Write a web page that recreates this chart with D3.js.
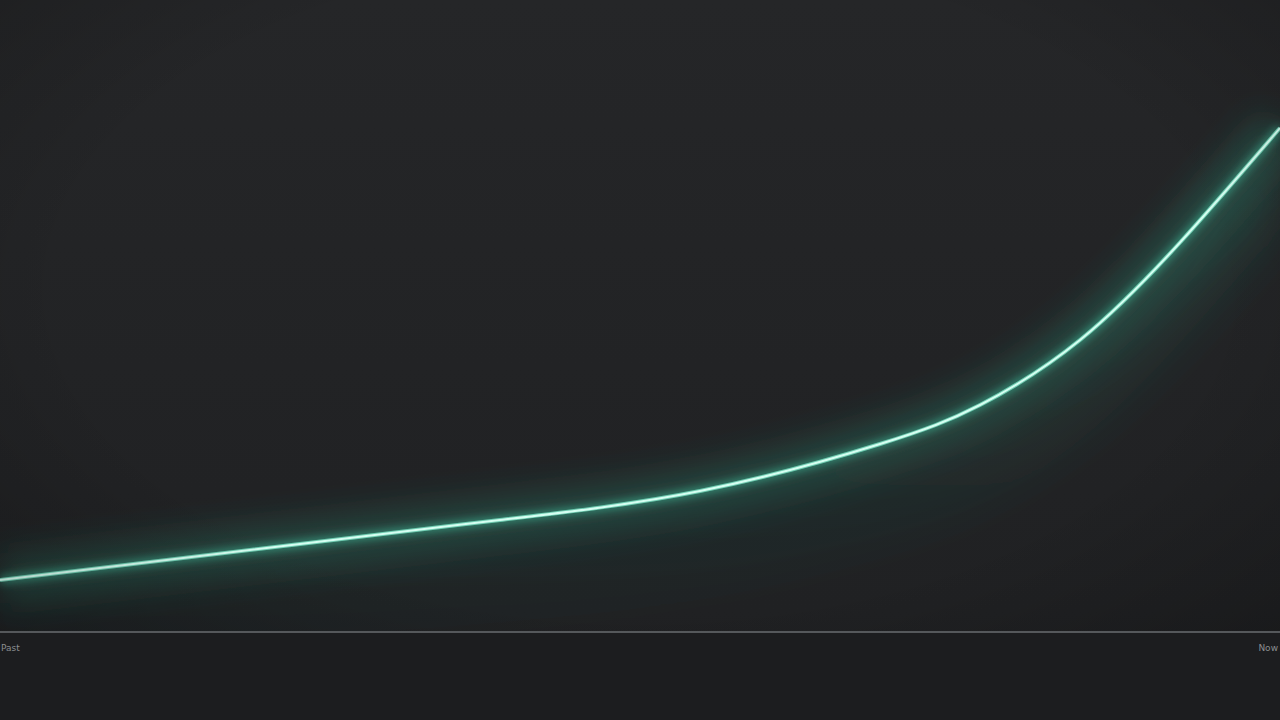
<!DOCTYPE html>
<html><head><meta charset="utf-8">
<script src="https://cdn.jsdelivr.net/npm/d3@7"></script>
<style>html,body{margin:0;padding:0;background:#1e1f21;overflow:hidden}</style>
</head><body>
<svg id="c" width="1280" height="720"></svg>
<script>
const xValues = [0,30,50,70,88,98,108,118,128];
const yValues = [10.4,17.6,22.4,28.2,37.6,45.4,58.4,77.9,100.8];
const axisLabels = ["Past","Now"];

const W=1280,H=720;
const svg=d3.select("#c");
const defs=svg.append("defs");
const bg=defs.append("linearGradient").attr("id","bg").attr("x1",0).attr("y1",0).attr("x2",0).attr("y2",1);
bg.append("stop").attr("offset","0%").attr("stop-color","#252628");
bg.append("stop").attr("offset","85%").attr("stop-color","#202123");
bg.append("stop").attr("offset","100%").attr("stop-color","#1c1d1f");
const vg=defs.append("radialGradient").attr("id","vg").attr("cx","50%").attr("cy","40%").attr("r","75%");
vg.append("stop").attr("offset","60%").attr("stop-color","#000").attr("stop-opacity",0);
vg.append("stop").attr("offset","100%").attr("stop-color","#000").attr("stop-opacity",0.25);
const under=defs.append("linearGradient").attr("id","under").attr("x1",0).attr("y1",0).attr("x2",0).attr("y2",1);
under.append("stop").attr("offset","0%").attr("stop-color","#2f8a74").attr("stop-opacity",0.22);
under.append("stop").attr("offset","100%").attr("stop-color","#2f8a74").attr("stop-opacity",0.0);
const f1=defs.append("filter").attr("id","glowW").attr("x","-20%").attr("y","-20%").attr("width","140%").attr("height","140%");
f1.append("feGaussianBlur").attr("stdDeviation",16);
const f2=defs.append("filter").attr("id","glowM").attr("x","-20%").attr("y","-20%").attr("width","140%").attr("height","140%");
f2.append("feGaussianBlur").attr("stdDeviation",4);
const f3=defs.append("filter").attr("id","glowA").attr("x","-20%").attr("y","-20%").attr("width","140%").attr("height","140%");
f3.append("feGaussianBlur").attr("stdDeviation",20);

svg.append("rect").attr("width",W).attr("height",H).attr("fill","url(#bg)");

const x=d3.scaleLinear().domain([0,128]).range([0,1280]);
const y=d3.scaleLinear().domain([0,120]).range([632,32]);
const data=xValues.map((v,i)=>({x:v,y:yValues[i]}));
const line=d3.line().x(d=>x(d.x)).y(d=>y(d.y)).curve(d3.curveNatural);
const area=d3.area().x(d=>x(d.x)).y0(d=>y(d.y)+100).y1(d=>y(d.y)).curve(d3.curveNatural);

svg.append("path").datum(data).attr("d",area).attr("fill","url(#under)").attr("filter","url(#glowA)");
svg.append("path").datum(data).attr("d",line).attr("fill","none").attr("stroke","#2e8f78").attr("stroke-width",50).attr("stroke-opacity",0.28).attr("filter","url(#glowW)");
svg.append("path").datum(data).attr("d",line).attr("fill","none").attr("stroke","#45c9a6").attr("stroke-width",8).attr("stroke-opacity",0.55).attr("filter","url(#glowM)");
svg.append("path").datum(data).attr("d",line).attr("fill","none").attr("stroke","#7fe3c6").attr("stroke-width",4).attr("stroke-opacity",0.8);
svg.append("path").datum(data).attr("d",line).attr("fill","none").attr("stroke","#d6fff2").attr("stroke-width",2);

svg.append("rect").attr("width",W).attr("height",H).attr("fill","url(#vg)");

svg.append("rect").attr("x",0).attr("y",633).attr("width",W).attr("height",87).attr("fill","#1c1d1f");
svg.append("line").attr("x1",0).attr("x2",W).attr("y1",632).attr("y2",632).attr("stroke","#55585b").attr("stroke-width",2);

svg.append("text").attr("x",1).attr("y",651).attr("text-anchor","start").attr("fill","#8a8d90").attr("font-family","DejaVu Sans").attr("font-size",9).text(axisLabels[0]);
svg.append("text").attr("x",1278).attr("y",651).attr("text-anchor","end").attr("fill","#8a8d90").attr("font-family","DejaVu Sans").attr("font-size",9).text(axisLabels[1]);
</script>
</body></html>
